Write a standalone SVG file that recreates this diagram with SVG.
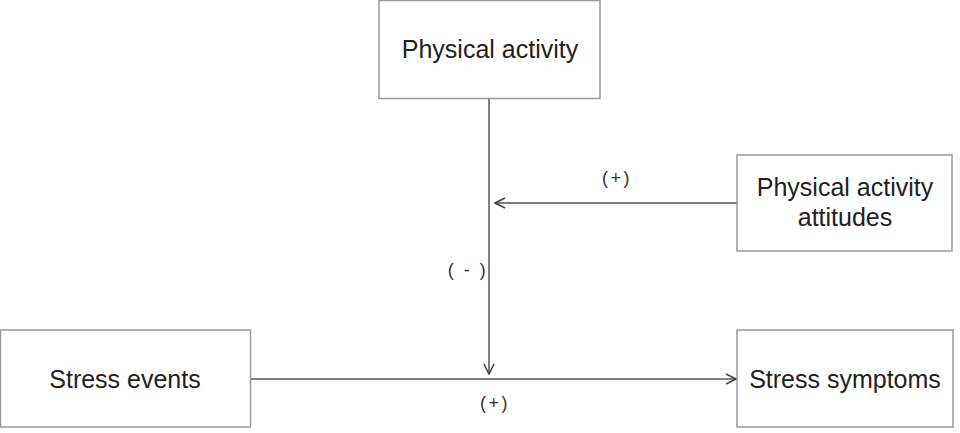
<svg xmlns="http://www.w3.org/2000/svg" width="960" height="433" viewBox="0 0 960 433">
<style>
.box{fill:#fff;stroke:#9a9a9a;stroke-width:1.5}
.t{font-family:"Liberation Sans",Arial,sans-serif;font-size:25px;fill:#222;text-anchor:middle}
.s{font-family:"Liberation Sans",Arial,sans-serif;font-size:18px;fill:#333;text-anchor:middle}
.c{stroke:#555;stroke-width:1.5;fill:none}
</style>
<defs>
<marker id="ah" viewBox="0 0 12 12" refX="11" refY="6" markerWidth="12" markerHeight="12" markerUnits="userSpaceOnUse" orient="auto">
<path d="M1,1 L11,6 L1,11" fill="none" stroke="#444" stroke-width="1.6"/>
</marker>
</defs>
<rect width="960" height="433" fill="#fff"/>
<g id="connectors">
<line class="c" x1="489" y1="99" x2="489" y2="374" marker-end="url(#ah)"/>
<line class="c" x1="737" y1="203" x2="495" y2="203" marker-end="url(#ah)"/>
<line class="c" x1="251" y1="379" x2="736" y2="379" marker-end="url(#ah)"/>
<text class="s" x="617" y="184" letter-spacing="2.5">(+)</text>
<text class="s" x="468" y="276" letter-spacing="2.5">( - )</text>
<text class="s" x="495" y="409" letter-spacing="2.5">(+)</text>
</g>
<g id="physical-activity">
<rect class="box" x="379" y="0.5" width="221" height="98"/>
<text class="t" x="490" y="58">Physical activity</text>
</g>
<g id="pa-attitudes">
<rect class="box" x="737" y="155" width="215" height="96"/>
<text class="t" x="845" y="196">Physical activity</text>
<text class="t" x="845" y="226">attitudes</text>
</g>
<g id="stress-events">
<rect class="box" x="0.5" y="330" width="250" height="97"/>
<text class="t" x="125" y="388">Stress events</text>
</g>
<g id="stress-symptoms">
<rect class="box" x="737" y="330" width="216" height="97"/>
<text class="t" x="845" y="388">Stress symptoms</text>
</g>
</svg>
